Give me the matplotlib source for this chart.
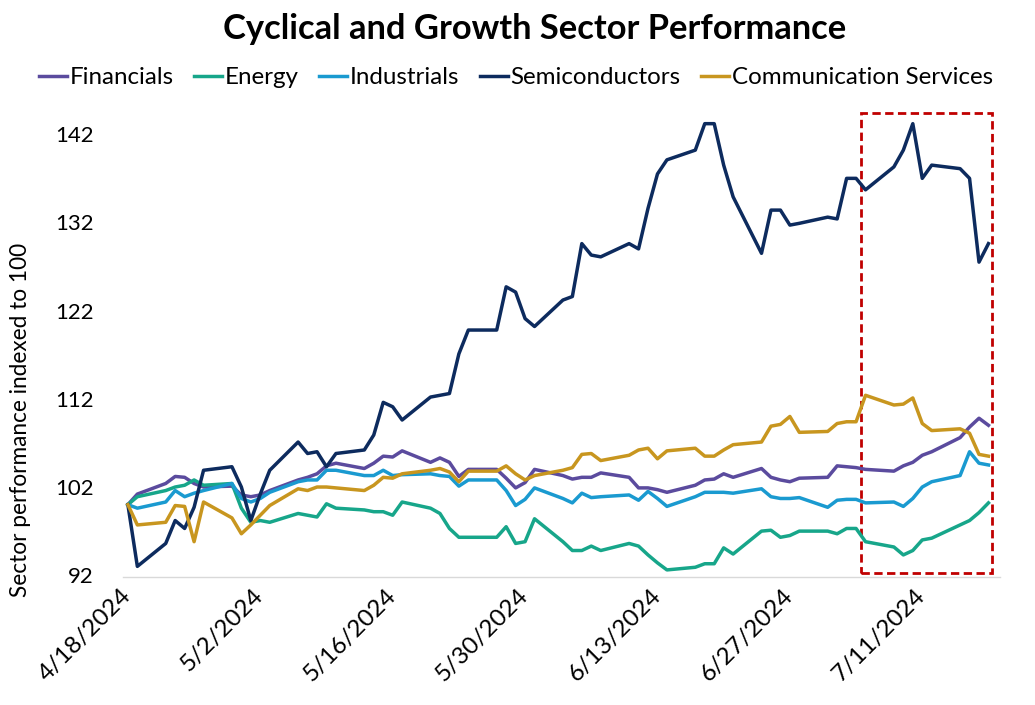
import matplotlib
matplotlib.use("Agg")
import matplotlib.pyplot as plt
import matplotlib.dates as mdates
from matplotlib.patches import Rectangle
import pandas as pd

plt.rcParams['font.family'] = ['Lato', 'DejaVu Sans']

# trading days (holidays carried forward), plotted on a calendar axis
dates = pd.bdate_range("2024-04-18", "2024-07-18")

financials = [100, 101.2, 102.4, 103.2, 103.1, 102.4, 102.0, 102.1, 101.1,
              100.9, 101.1, 101.6, 102.8, 103.1, 103.5, 104.4, 104.7, 104.1, 104.7, 105.5, 105.4,
              106.1, 104.8, 105.3, 104.8, 103.2, 104.0, 104.0, 103.0, 101.9, 102.5, 104.0,
              103.3, 102.9, 103.1, 103.1, 103.6, 103.1, 101.9, 101.9, 101.7, 101.4,
              102.2, 102.8, 102.9, 103.5, 103.1, 104.1, 103.1, 102.8, 102.6, 103.0,
              103.1, 104.4, 104.3, 104.2, 104.0, 103.8, 104.4, 104.8, 105.6, 106.0,
              107.6, 108.8, 109.8, 109.0]

energy = [100, 100.9, 101.6, 102.0, 102.2, 102.8, 102.2, 102.4, 99.6,
          98.0, 98.2, 98.0, 99.0, 98.8, 98.6, 100.1, 99.6, 99.4, 99.2, 99.2, 98.8,
          100.3, 99.6, 99.0, 97.3, 96.3, 96.3, 96.3, 97.5, 95.6, 95.8, 98.4,
          95.8, 94.8, 94.8, 95.3, 94.8, 95.6, 95.3, 94.3, 93.4, 92.6,
          92.9, 93.3, 93.3, 95.1, 94.4, 97.0, 97.1, 96.3, 96.5, 97.0,
          97.0, 96.7, 97.3, 97.3, 95.8, 95.2, 94.3, 94.8, 96.0, 96.2,
          97.7, 98.2, 99.1, 100.2]

industrials = [100, 99.6, 100.3, 101.6, 100.9, 101.3, 101.6, 102.4, 100.7,
               100.3, 100.7, 101.4, 102.6, 102.8, 102.8, 103.9, 103.9, 103.3, 103.3, 103.9, 103.3,
               103.4, 103.5, 103.3, 103.2, 102.1, 102.8, 102.8, 101.6, 99.9, 100.6, 101.9,
               100.7, 100.2, 101.3, 100.8, 100.9, 101.1, 100.5, 101.5, 100.7, 99.8,
               100.9, 101.4, 101.4, 101.4, 101.3, 101.8, 100.9, 100.7, 100.7, 100.8,
               99.7, 100.5, 100.6, 100.6, 100.2, 100.3, 99.8, 100.7, 102.0, 102.6,
               103.3, 106.0, 104.7, 104.5]

semis = [100, 93.0, 95.6, 98.2, 97.3, 99.7, 103.9, 104.3, 102.0,
         98.2, 101.2, 103.9, 107.1, 105.8, 106.0, 104.3, 105.8, 106.2, 107.9, 111.6, 111.1,
         109.6, 112.2, 112.4, 112.6, 117.1, 119.8, 119.8, 124.7, 124.1, 121.1, 120.2,
         123.2, 123.6, 129.6, 128.3, 128.1, 129.6, 129.0, 133.6, 137.5, 139.1,
         140.2, 143.2, 143.2, 138.5, 134.9, 128.5, 133.4, 133.4, 131.7, 131.9,
         132.6, 132.4, 137.0, 137.0, 135.7, 138.3, 140.2, 143.2, 137.0, 138.5,
         138.1, 137.0, 127.5, 129.6]

comm = [100, 97.7, 98.0, 99.9, 99.8, 95.8, 100.3, 98.5, 96.7,
        97.7, 98.8, 99.9, 101.8, 101.6, 102.0, 102.0, 101.9, 101.6, 102.2, 103.1, 103.0,
        103.5, 103.9, 104.1, 103.7, 102.6, 103.8, 103.8, 104.4, 103.5, 102.8, 103.3,
        103.9, 104.2, 105.7, 105.8, 105.0, 105.6, 106.2, 106.4, 105.2, 106.1,
        106.4, 105.5, 105.5, 106.2, 106.8, 107.1, 108.9, 109.1, 110.0, 108.2,
        108.3, 109.2, 109.4, 109.4, 112.4, 111.3, 111.4, 112.1, 109.2, 108.4,
        108.6, 108.1, 105.7, 105.5]

names = ["Financials", "Energy", "Industrials", "Semiconductors", "Communication Services"]
colors = ["#5B4B9E", "#17A68A", "#1A9AD0", "#0D2B5E", "#C8961F"]
yticks = [92, 102, 112, 122, 132, 142]
tick_dates = pd.date_range("2024-04-18", "2024-07-11", freq="14D")

fig = plt.figure(figsize=(10.35, 7.05), dpi=100)
ax = fig.add_axes([0.119, 0.1816, 0.847, 0.678])

for vals, name, col in zip([financials, energy, industrials, semis, comm], names, colors):
    ax.plot(dates, vals, color=col, lw=2.5, label=name)

start = mdates.date2num(dates[0])
ax.set_xlim(start - 0.5, start + 92.2)
ax.set_ylim(91.8, 146)

# highlight box on the last two weeks
box = Rectangle((start + 77.5, 92.2), 13.9, 52.2, fill=False, edgecolor="#C00000",
                lw=2, ls=(0, (3, 1.6)), clip_on=False)
ax.add_patch(box)

ax.set_xticks(tick_dates)
ax.set_xticklabels([f"{d.month}/{d.day}/{d.year}" for d in tick_dates],
                   rotation=45, ha="right", va="center", rotation_mode="anchor", fontsize=17.5)
ax.set_yticks(yticks)
ax.set_yticklabels([str(t) for t in yticks], fontsize=16)
ax.tick_params(axis="y", length=0, pad=21)
ax.tick_params(axis="x", length=0, pad=11)

for s in ["top", "right", "left"]:
    ax.spines[s].set_visible(False)
ax.spines["bottom"].set_color("#D9D9D9")
ax.spines["bottom"].set_linewidth(1)

fig.text(0.517, 1 - 29 / 705, "Cyclical and Growth Sector Performance",
         fontsize=24.8, fontweight="bold", ha="center", va="center")
fig.text(21 / 1035, 1 - 420 / 705, "Sector performance indexed to 100",
         fontsize=16.3, rotation=90, ha="center", va="center")

fig.legend(loc="center", bbox_to_anchor=(516 / 1035, 1 - 78 / 705), ncol=5, frameon=False,
           fontsize=17.4, handlelength=1.15, handletextpad=0.12, columnspacing=0.85)

fig.savefig("out.png", dpi=100)
